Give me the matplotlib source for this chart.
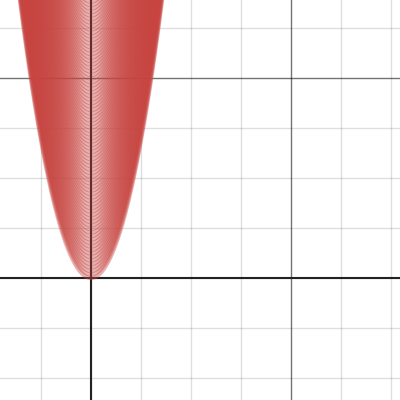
import numpy as np
import matplotlib
matplotlib.use("Agg")
import matplotlib.pyplot as plt

coef = 2.75
offsets = np.arange(0, 6.0, 0.07)

fig = plt.figure(figsize=(4, 4), dpi=100)
ax = fig.add_axes([0, 0, 1, 1])
xmin, xmax = -91/50, (400-91)/50
ymin, ymax = -(400-278)/50, 278/50
ax.set_xlim(xmin, xmax); ax.set_ylim(ymin, ymax)
for v in np.arange(-1, 7):
    ax.axvline(v, color='#000', alpha=0.55 if v == 4 else 0.13, lw=1, zorder=0)
for v in np.arange(-2, 6):
    ax.axhline(v, color='#000', alpha=0.55 if v == 4 else 0.13, lw=1, zorder=0)
ax.axhline(0, color='#222', lw=1.5, zorder=1)
ax.axvline(0, color='#222', lw=1.5, zorder=1)
x = np.linspace(-2, 2, 800)
for c in offsets:
    ax.plot(x, coef*x**2 + c, color='#c74440', lw=3, alpha=0.42, zorder=2)
ax.axvline(0, color='#222', lw=1.5, alpha=0.15, zorder=3)
ax.axis('off')
fig.savefig('out.png')
